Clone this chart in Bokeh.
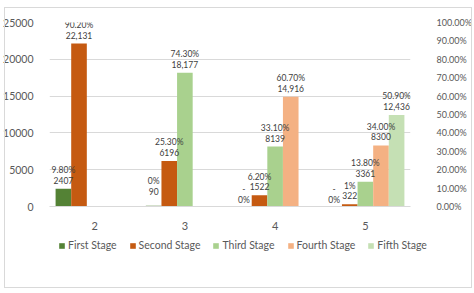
from bokeh.plotting import figure
from bokeh.layouts import column
from bokeh.models import (Range1d, LinearAxis, FactorRange, SingleIntervalTicker,
                          NumeralTickFormatter, ColumnDataSource, Legend, LegendItem,
                          InlineStyleSheet)
from bokeh.transform import dodge
from bokeh.core.properties import value
from bokeh.embed import file_html
from bokeh.resources import INLINE

# ---------------- data ----------------
groups = ["2", "3", "4", "5"]
stages = ["First Stage", "Second Stage", "Third Stage", "Fourth Stage", "Fifth Stage"]
first_stage = [2407, 90, 0, 0]
second_stage = [22131, 6196, 1522, 322]
third_stage = [None, 18177, 8139, 3361]
fourth_stage = [None, None, 14916, 8300]
fifth_stage = [None, None, None, 12436]
first_pct = ["9.80%", "0%", "0%", "0%"]
second_pct = ["90.20%", "25.30%", "6.20%", "1%"]
third_pct = [None, "74.30%", "33.10%", "13.80%"]
fourth_pct = [None, None, "60.70%", "34.00%"]
fifth_pct = [None, None, None, "50.90%"]
left_ticks_interval = 5000
right_ticks_interval = 0.1

series_values = [first_stage, second_stage, third_stage, fourth_stage, fifth_stage]
series_pcts = [first_pct, second_pct, third_pct, fourth_pct, fifth_pct]

# ---------------- styles ----------------
colors = ["#548235", "#c55a11", "#a9d18e", "#f4b183", "#c5e0b4"]
FONT = "Lato"
bar_w = 0.173
offsets = [-2 * bar_w, -bar_w, 0.0, bar_w, 2 * bar_w]
# small manual label nudges (px, positive = down)
nudges = {(0, 1): -6, (0, 2): 1, (0, 3): 1}

p = figure(width=474, height=232, x_range=FactorRange(*groups, range_padding=0),
           y_range=Range1d(0, 25000), output_backend="svg", toolbar_location=None,
           min_border_left=45, min_border_right=59, min_border_top=22,
           min_border_bottom=25)
p.extra_y_ranges = {"pct": Range1d(0, 1)}
p.background_fill_color = "white"
p.border_fill_color = "white"
p.outline_line_color = None

p.xgrid.grid_line_color = None
p.ygrid.grid_line_color = "#d9d9d9"
p.ygrid.ticker = SingleIntervalTicker(interval=left_ticks_interval)

# left axis
ya = p.yaxis[0]
ya.ticker = SingleIntervalTicker(interval=left_ticks_interval)
ya.formatter = NumeralTickFormatter(format="0")
ya.axis_line_color = None
ya.major_tick_line_color = None
ya.minor_tick_line_color = None
ya.major_label_standoff = 10
ya.major_label_text_font = FONT
ya.major_label_text_font_size = "10.5px"
ya.major_label_text_color = "#595959"

# right axis
ra = LinearAxis(y_range_name="pct", ticker=SingleIntervalTicker(interval=right_ticks_interval),
                formatter=NumeralTickFormatter(format="0.00%"))
ra.axis_line_color = None
ra.major_tick_line_color = None
ra.minor_tick_line_color = None
ra.major_label_standoff = 20
ra.major_label_text_font = FONT
ra.major_label_text_font_size = "9px"
ra.major_label_text_color = "#595959"
p.add_layout(ra, "right")

# x axis
xa = p.xaxis[0]
xa.axis_line_color = "#d9d9d9"
xa.major_tick_line_color = None
xa.minor_tick_line_color = None
xa.major_label_standoff = 9
xa.major_label_text_font = FONT
xa.major_label_text_font_size = "11px"
xa.major_label_text_color = "#595959"

label_sources = []
for i, (vals, pcts) in enumerate(zip(series_values, series_pcts)):
    xs, tops, labels, yoffs = [], [], [], []
    for j, g in enumerate(groups):
        v = vals[j]
        if v is None:
            continue
        xs.append(g)
        tops.append(v)
        if v == 0:
            labels.append("-\n" + pcts[j])
        else:
            vt = f"{v:,}" if v >= 10000 else str(v)
            labels.append(pcts[j] + "\n" + vt)
        yoffs.append(-3 + nudges.get((i, j), 0))
    src = ColumnDataSource(dict(x=xs, top=tops, label=labels, yoff=yoffs))
    p.vbar(x=dodge("x", offsets[i], range=p.x_range), top="top", width=bar_w,
           source=src, fill_color=colors[i], line_color=None)
    label_sources.append(src)

for i, src in enumerate(label_sources):
    p.text(x=dodge("x", offsets[i], range=p.x_range), y="top", text="label",
           source=src, y_offset="yoff", text_align="center", text_baseline="bottom",
           text_font=value(FONT), text_font_size="8.5px", text_color="#404040",
           text_line_height=1.05)

# ---------------- legend strip ----------------
lf = figure(frame_width=474, frame_height=61, x_range=Range1d(0, 1), y_range=Range1d(0, 1),
            x_axis_type=None, y_axis_type=None,
            output_backend="svg", toolbar_location=None,
            min_border_left=0, min_border_right=0, min_border_top=0, min_border_bottom=0)
lf.grid.grid_line_color = None
lf.outline_line_color = None
lf.background_fill_color = "white"
lf.border_fill_color = "white"
items = []
for i, s in enumerate(stages):
    # legend proxy: zero-height bar outside the visible range
    r = lf.vbar(x=[-1], top=[0], width=0.1, fill_color=colors[i], line_color=None)
    items.append(LegendItem(label=s, renderers=[r]))
legend = Legend(items=items, orientation="horizontal", location=(58, 42),
                glyph_width=7, glyph_height=7, label_height=10, label_standoff=3,
                spacing=12, padding=0, margin=0, border_line_color=None,
                background_fill_alpha=0,
                label_text_font=FONT, label_text_font_size="10.5px",
                label_text_color="#595959")
lf.add_layout(legend, "center")

layout = column(p, lf, spacing=0)
# outer chart border (drawn by CSS on the host element)
layout.stylesheets = [InlineStyleSheet(css=""":host { position: relative; }
:host::after { content: ''; position: absolute; left: 4px; top: 7px; width: 466px;
  height: 279px; border: 1px solid #d9d9d9; pointer-events: none; }""")]

open("out.html", "w").write(file_html(layout, INLINE))
